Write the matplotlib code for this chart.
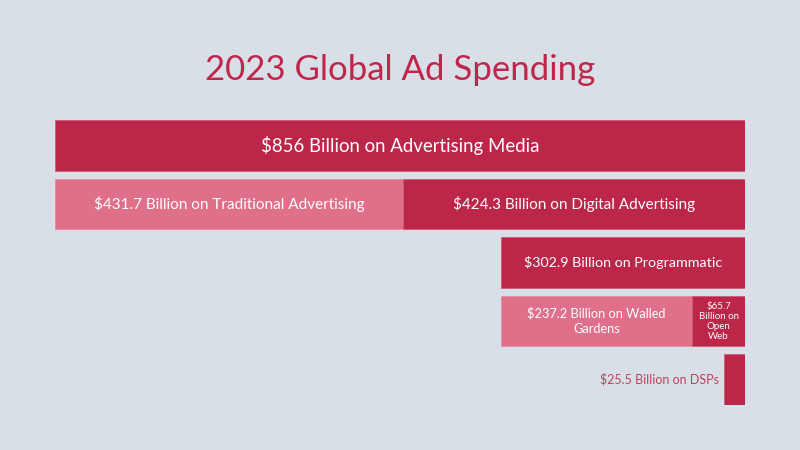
import matplotlib.pyplot as plt

plt.rcParams['font.family'] = ['Lato', 'DejaVu Sans']

# data (billions USD)
rows = [0, 1, 1, 2, 3, 3, 4]
segments = ["Advertising Media", "Traditional Advertising", "Digital Advertising",
            "Programmatic", "Walled Gardens", "Open Web", "DSPs"]
values = [856, 431.7, 424.3, 302.9, 237.2, 65.7, 25.5]
labels = ["$856 Billion on Advertising Media",
          "$431.7 Billion on Traditional Advertising",
          "$424.3 Billion on Digital Advertising",
          "$302.9 Billion on Programmatic",
          "$237.2 Billion on Walled\nGardens",
          "$65.7\nBillion on\nOpen\nWeb",
          "$25.5 Billion on DSPs"]
light = [False, True, False, False, True, False, False]
total = 856

BG = '#d8dfe6'
DARK = '#bb2649'
PINK = '#e07089'

fig = plt.figure(figsize=(8, 4.5), dpi=100, facecolor=BG)
fig.text(0.5, 0.845, "2023 Global Ad Spending", ha='center', va='center',
         fontsize=25, color='#c0264b')

ax = fig.add_axes([55 / 800, 45 / 450, 690 / 800, 285 / 450])
ax.set_facecolor(BG)

# lefts: rows are right-aligned to the total, segments stacked within a row
lefts = []
row_used = {}
row_total = {}
for r, v in zip(rows, values):
    row_total[r] = row_total.get(r, 0) + v
for r, v in zip(rows, values):
    start = total - row_total[r] if r >= 2 else 0
    lefts.append(start + row_used.get(r, 0))
    row_used[r] = row_used.get(r, 0) + v

sizes = [13.4, 11, 11, 10.3, 9.2, 7, 9]
for i in range(len(values)):
    c = PINK if light[i] else DARK
    ax.barh(rows[i], values[i], left=lefts[i], height=0.863, color=c,
            edgecolor='#d35a78' if not light[i] else '#e88aa0', linewidth=0.6)
    if segments[i] == "DSPs":
        ax.text(lefts[i] - 7, rows[i], labels[i], ha='right', va='center',
                fontsize=sizes[i], color='#c2405f')
    else:
        ax.text(lefts[i] + values[i] / 2, rows[i], labels[i], ha='center',
                va='center', fontsize=sizes[i], color='white',
                linespacing=1.15 if segments[i] == "Open Web" else 1.3)

ax.set_xlim(0, total)
ax.set_ylim(4.4315, -0.4315)
ax.axis('off')

fig.savefig('out.png', dpi=100, facecolor=BG)
